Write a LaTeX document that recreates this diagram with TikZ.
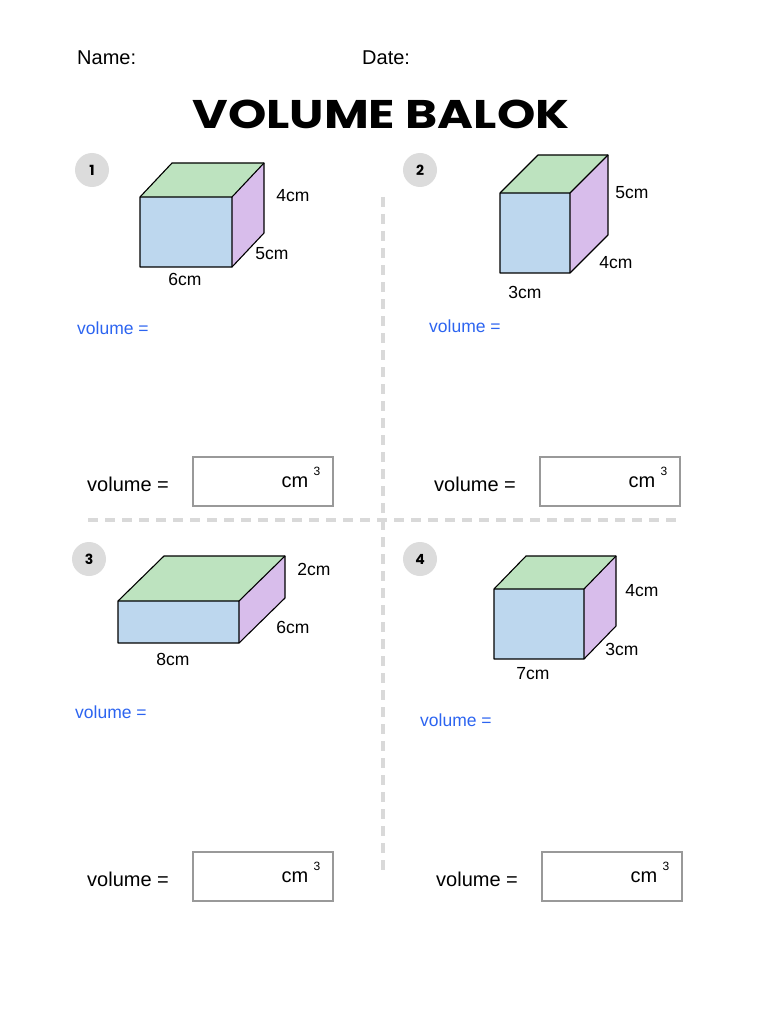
\documentclass[tikz,border=0pt]{standalone}
\usepackage{fontspec}
\setmainfont{Liberation Sans}
\newfontfamily\titlefont{Poppins}
\definecolor{topc}{HTML}{BDE3BF}
\definecolor{frontc}{HTML}{BDD7EE}
\definecolor{sidec}{HTML}{D8BDEB}
\definecolor{bluet}{HTML}{2C64F0}
\definecolor{dashc}{HTML}{D9D9D9}
\definecolor{circc}{HTML}{DCDCDC}
\begin{document}
\begin{tikzpicture}[x=1pt,y=-1pt,
  lbl/.style={font=\fontsize{17.5}{17.5}\selectfont,inner sep=0pt},
  blue/.style={font=\fontsize{17.5}{17.5}\selectfont,text=bluet,inner sep=0pt,anchor=west},
  vol/.style={font=\fontsize{20}{20}\selectfont,inner sep=0pt,anchor=west},
  ans/.style={draw=black!40,line width=1.2pt},
  num/.style={circle,fill=circc,minimum size=34pt,inner sep=0pt,font=\titlefont\bfseries\fontsize{14}{14}\selectfont},
  sep/.style={dashc,line width=4pt,dash pattern=on 10pt off 7pt},
  face/.style={draw=black,line width=1.1pt,line join=round}]
\useasboundingbox (0,0) rectangle (768,1024);
\node[vol,anchor=west] (name) at (77,58) {Name:};
\node[vol,anchor=west] (date) at (362,58) {Date:};
\node[font=\titlefont\bfseries\fontsize{40}{40}\selectfont,inner sep=0pt,xscale=1.22] (title) at (381,114) {VOLUME BALOK};
\draw[sep] (383,197) -- (383,877);
\draw[sep] (88,520) -- (680,520);
\newcommand{\mycube}[6]{%
  \fill[topc] (#1,#2) -- ++(#5,-#6) -- ++(#3,0) -- ++(-#5,#6) -- cycle;
  \fill[frontc] (#1,#2) rectangle ++(#3,#4);
  \fill[sidec] (#1+#3,#2) -- ++(#5,-#6) -- ++(0,#4) -- ++(-#5,#6) -- cycle;
  \draw[face] (#1,#2) -- ++(#5,-#6) -- ++(#3,0) -- ++(0,#4) -- ++(-#5,#6) -- ++(-#3,0) -- cycle;
  \draw[face] (#1,#2) -- ++(#3,0) -- ++(#5,-#6) (#1+#3,#2) -- ++(0,#4);
}
\mycube{140}{197}{92}{70}{32}{34}
\mycube{500}{193}{70}{80}{38}{38}
\mycube{118}{601}{121}{42}{46}{45}
\mycube{494}{589}{90}{70}{32}{33}
\node[num] (n1) at (92,170) {1};
\node[num] (n2) at (420,170) {2};
\node[num] (n3) at (89,559) {3};
\node[num] (n4) at (420,559) {4};
\node[lbl] at (293,196) {4cm};
\node[lbl] at (272,254) {5cm};
\node[lbl] at (185,279) {6cm};
\node[lbl] at (632,193) {5cm};
\node[lbl] at (616,263) {4cm};
\node[lbl] at (525,292) {3cm};
\node[lbl] at (314,569) {2cm};
\node[lbl] at (293,627) {6cm};
\node[lbl] at (173,659) {8cm};
\node[lbl] at (642,591) {4cm};
\node[lbl] at (622,649) {3cm};
\node[lbl] at (533,674) {7cm};
\node[blue] at (77,328) {volume =};
\node[blue] at (429,326) {volume =};
\node[blue] at (75,712) {volume =};
\node[blue] at (420,720) {volume =};
\foreach \bx/\by/\vx in {193/457/87,540/457/434,193/852/87,542/852/436}{
  \node[vol] at (\vx,\by+27) {volume =};
  \draw[ans] (\bx,\by) rectangle ++(140,49);
  \node[font=\fontsize{20}{20}\selectfont,inner sep=0pt] at (\bx+102,\by+25) {cm};
  \node[font=\fontsize{12}{12}\selectfont,inner sep=0pt] at (\bx+124,\by+14) {3};
}
\end{tikzpicture}
\end{document}
